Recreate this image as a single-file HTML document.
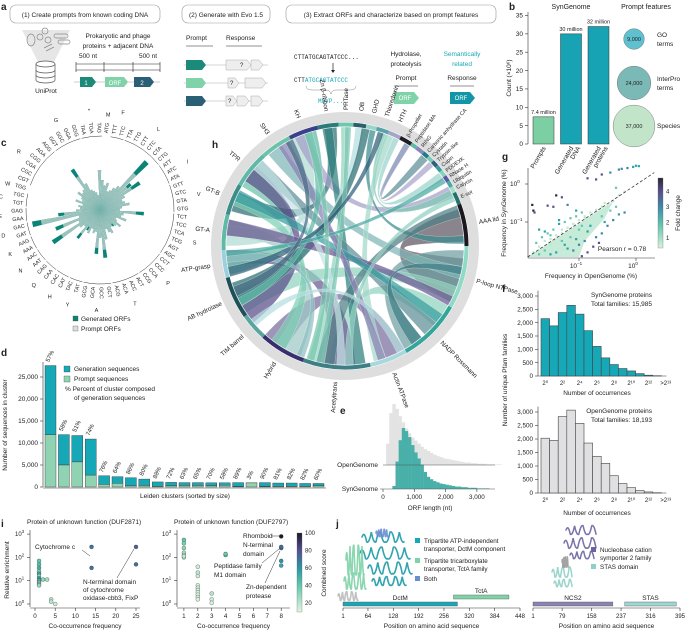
<!DOCTYPE html>
<html><head><meta charset="utf-8">
<style>
html,body{margin:0;padding:0;background:#fff;}
svg{display:block;font-family:"Liberation Sans",sans-serif;}
text{fill:#222;}
</style></head>
<body>
<svg id="fig" width="685" height="631" viewBox="0 0 685 631" xmlns="http://www.w3.org/2000/svg">
<g font-weight="bold" font-size="10">
<text x="1" y="10">a</text><text x="509" y="10">b</text><text x="1" y="146">c</text>
<text x="212" y="148">h</text><text x="502" y="160">g</text><text x="502" y="292">f</text>
<text x="1" y="356">d</text><text x="340" y="414">e</text><text x="1" y="527">i</text><text x="336" y="527">j</text>
</g>

<g id="panel-a" font-size="6.5">
<rect x="10" y="5" width="150" height="18" rx="6" fill="#fff" stroke="#999" stroke-width="0.6"/>
<text x="85" y="17" text-anchor="middle">(1) Create prompts from known coding DNA</text>
<rect x="182" y="5" width="88" height="18" rx="6" fill="#fff" stroke="#999" stroke-width="0.6"/>
<text x="226" y="17" text-anchor="middle">(2) Generate with Evo 1.5</text>
<rect x="286" y="5" width="210" height="18" rx="6" fill="#fff" stroke="#999" stroke-width="0.6"/>
<text x="391" y="17" text-anchor="middle">(3) Extract ORFs and characterize based on prompt features</text>
<polygon points="22,30 70,30 54,62 38,62" fill="#e6e6e6"/>
<g fill="none" stroke="#888" stroke-width="0.7">
<ellipse cx="31" cy="40" rx="4" ry="6"/><circle cx="40" cy="37" r="3"/><circle cx="45" cy="31" r="3"/><circle cx="48" cy="40" r="3"/>
<rect x="54" y="34" width="14" height="4" rx="2"/><rect x="58" y="40" width="12" height="4" rx="2"/><path d="M44 48 l8 -4 M46 51 l8 -4"/>
</g>
<g fill="#fff" stroke="#555" stroke-width="0.7">
<path d="M36 64 v16 a9.5 3 0 0 0 19 0 v-16"/><ellipse cx="45.5" cy="64" rx="9.5" ry="3"/>
<path d="M36 70 a9.5 3 0 0 0 19 0 M36 75 a9.5 3 0 0 0 19 0" fill="none"/>
</g>
<text x="46" y="93" text-anchor="middle">UniProt</text>
<text x="118" y="38" text-anchor="middle">Prokaryotic and phage</text>
<text x="118" y="48" text-anchor="middle">proteins + adjacent DNA</text>
<text x="88" y="58" text-anchor="middle">500 nt</text><text x="148" y="58" text-anchor="middle">500 nt</text>
<g stroke="#222" stroke-width="0.6">
<line x1="76" y1="64" x2="160" y2="64"/><line x1="76" y1="70" x2="160" y2="70"/>
<line x1="76" y1="62" x2="76" y2="72"/><line x1="104" y1="62" x2="104" y2="72"/><line x1="133" y1="62" x2="133" y2="72"/><line x1="160" y1="62" x2="160" y2="72"/>
</g>
<line x1="74" y1="82" x2="160" y2="82" stroke="#999" stroke-width="0.6"/>
<g font-size="6">
<polygon points="80,77 92,77 96,82 92,87 80,87" fill="#1b8a78"/><text x="86" y="85" style="fill:#fff" text-anchor="middle">1</text>
<polygon points="105,77 124,77 128,82 124,87 105,87" fill="#80d2a8"/><text x="115" y="85" style="fill:#fff" text-anchor="middle">ORF</text>
<polygon points="134,77 150,77 154,82 150,87 134,87" fill="#2b5f76"/><text x="142" y="85" style="fill:#fff" text-anchor="middle">2</text>
</g>
<text x="186" y="40">Prompt</text><text x="226" y="40">Response</text>
<line x1="186" y1="46" x2="213" y2="46" stroke="#222" stroke-width="0.6"/><line x1="226" y1="46" x2="262" y2="46" stroke="#222" stroke-width="0.6"/>
<g stroke="#aaa" stroke-width="0.5" font-size="6">
<line x1="184" y1="65" x2="268" y2="65"/><line x1="184" y1="83" x2="268" y2="83"/><line x1="184" y1="101" x2="268" y2="101"/>
<polygon points="186,60 202,60 206,65 202,70 186,70" fill="#1b8a78" stroke="none"/>
<polygon points="186,78 202,78 206,83 202,88 186,88" fill="#80d2a8" stroke="none"/>
<polygon points="186,96 202,96 206,101 202,106 186,106" fill="#2b5f76" stroke="none"/>
<polygon points="226,60 247,60 251,65 247,70 226,70" fill="#eee"/><polygon points="251,60 259,60 263,65 259,70 251,70" fill="#eee"/>
<polygon points="228,78 235,78 239,83 235,88 228,88" fill="#eee"/><polygon points="245,78 262,78 266,83 262,88 245,88" fill="#eee"/>
<polygon points="226,96 233,96 237,101 233,106 226,106" fill="#eee"/><polygon points="237,96 245,96 249,101 245,106 237,106" fill="#eee"/><polygon points="251,96 259,96 263,101 259,106 251,106" fill="#eee"/>
</g>
<g font-size="6" fill="#333"><text x="240" y="67">?</text><text x="230" y="85">?</text><text x="228" y="103">?</text></g>
<text x="294" y="59" font-family="Liberation Mono,monospace" font-size="6">CTTATGCAGTATCCC...</text>
<line x1="333" y1="63" x2="333" y2="71" stroke="#222" stroke-width="0.7"/><polygon points="331,70 335,70 333,73" fill="#222"/>
<text x="294" y="82" font-family="Liberation Mono,monospace" font-size="6">CTT<tspan style="fill:#17a8b8">ATGCAGTATCCC</tspan></text>
<path d="M306 86 q0 4 6 4 h14 q4 0 5 4 q1 -4 5 -4 h14 q6 0 6 -4" fill="none" stroke="#888" stroke-width="0.5"/>
<text x="318" y="103" font-family="Liberation Mono,monospace" font-size="6" style="fill:#17a8b8">MQYP...</text>
<text x="406" y="56" text-anchor="middle">Hydrolase,</text><text x="406" y="66" text-anchor="middle">proteolysis</text>
<text x="406" y="80" text-anchor="middle">Prompt</text>
<line x1="394" y1="86" x2="418" y2="86" stroke="#222" stroke-width="0.6"/>
<polygon points="394,92 414,92 419,98 414,104 394,104" fill="#80d2a8"/><text x="405" y="100" style="fill:#fff" text-anchor="middle" font-size="6">ORF</text>
<text x="462" y="56" text-anchor="middle" style="fill:#17a8b8">Semantically</text><text x="462" y="66" text-anchor="middle" style="fill:#17a8b8">related</text>
<text x="462" y="80" text-anchor="middle">Response</text>
<line x1="450" y1="86" x2="474" y2="86" stroke="#222" stroke-width="0.6"/>
<polygon points="450,92 470,92 475,98 470,104 450,104" fill="#1295a6"/><text x="461" y="100" style="fill:#fff" text-anchor="middle" font-size="6">ORF</text>
</g>

<g id="dyn"></g>
</svg>
<script>
const NS="http://www.w3.org/2000/svg";
const root=document.getElementById('dyn');
function mk(tag,at,parent){const e=document.createElementNS(NS,tag);for(const k in at)e.setAttribute(k,at[k]);(parent||root).appendChild(e);return e;}
function tx(x,y,s,at,parent){const e=mk('text',Object.assign({x:x,y:y,'font-size':6.5},at||{}),parent);e.textContent=s;return e;}

/* ---------- Panel b data ---------- */
const bCats=["Prompts","Generated DNA","Generated proteins"];
const bVals=[7.4,30,32];
const bLabels=["7.4 million","30 million","32 million"];
const bTicks=[0,5,10,15,20,25,30,35];
const featNames=["GO terms","InterPro terms","Species"];
const featVals=[9000,24000,37000];
(function(){
 const g=mk('g',{});
 
 
 const y=v=>144-v*(128.5/35), x0=528;
 tx(571,9,"SynGenome",{'text-anchor':'middle','font-size':7},g);
 mk('line',{x1:x0,y1:12,x2:x0,y2:144,stroke:'#333','stroke-width':0.6},g);
 bTicks.forEach(t=>{mk('line',{x1:x0-3,y1:y(t),x2:x0,y2:y(t),stroke:'#333','stroke-width':0.6},g);tx(x0-5,y(t)+2.2,String(t),{'text-anchor':'end','font-size':6.5},g);});
 tx(0,0,"Count (×10⁶)",{transform:`translate(511,78) rotate(-90)`,'text-anchor':'middle','font-size':6.5},g);
 const cols=["#7ccfa3","#17a3b3","#17a3b3"];
 bVals.forEach((v,i)=>{const bx=533+i*27.5;
  const r=mk('rect',{x:bx,y:y(v),width:21,height:144-y(v),fill:cols[i],stroke:'#333','stroke-width':0.5},g);
  
  
  tx(bx+10.5,y(v)-3,bLabels[i],{'text-anchor':'middle','font-size':5.5},g);
  const parts=bCats[i].split(' ');
  parts.forEach((p,k)=>{const ax=bx+13+k*7, ay=148;
   tx(ax,ay,p,{transform:`rotate(-60 ${ax} ${ay})`,'text-anchor':'end','font-size':6.5},g);});
 });
 tx(646,9,"Prompt features",{'text-anchor':'middle','font-size':7},g);
 const fc=["#5fc0cf","#7ab9b5","#c2e5c9"],fy=[39,83,126];
 featVals.forEach((v,i)=>{const r=Math.sqrt(v)/9.2;
  const c=mk('circle',{cx:634,cy:fy[i],r:r,fill:fc[i],stroke:'#666','stroke-width':0.4},g);
  
  
  tx(634,fy[i]+2,v.toLocaleString('en-US'),{'text-anchor':'middle','font-size':5.5},g);
  const w=featNames[i].split(' ');
  if(w.length>1){tx(657,fy[i]-2,w[0],{'font-size':6.5},g);tx(657,fy[i]+7,w[1],{'font-size':6.5},g);}
  else tx(657,fy[i]+2,w[0],{'font-size':6.5},g);
 });
})();

/* ---------- Panel c: codon polar ---------- */
const aaGroups=[["*",["TAA","TGA","TAG"]],["M",["ATG"]],["F",["TTT","TTC"]],["L",["TTA","TTG","CTT","CTC","CTA","CTG"]],["I",["ATT","ATC","ATA"]],["V",["GTT","GTC","GTA","GTG"]],["S",["TCT","TCC","TCA","TCG","AGT","AGC"]],["P",["CCT","CCC","CCA","CCG"]],["T",["ACT","ACC","ACA","ACG"]],["A",["GCT","GCC","GCA","GCG"]],["Y",["TAT","TAC"]],["H",["CAT","CAC"]],["Q",["CAA","CAG"]],["N",["AAT","AAC"]],["K",["AAA","AAG"]],["D",["GAT","GAC"]],["E",["GAA","GAG"]],["C",["TGT","TGC"]],["W",["TGG"]],["R",["CGT","CGC","CGA","CGG","AGA","AGG"]],["G",["GGT","GGC","GGA","GGG"]]];
const promptFreq=[18,15,40,30,25,28,20,22,26,30,50,35,38,28,24,26,30,22,20,36,24,22,28,18,20,26,22,18,20,26,24,20,30,40,28,38,22,24,20,26,20,30,22,26,46,24,40,22,60,36,24,20,22,18,26,20,22,28,24,26,40,30,22,20];
const genFreq=[18,15,40,30,25,28,20,22,26,30,67,40,48,28,24,26,30,22,20,44,24,22,28,18,20,26,22,21,20,26,24,20,30,48,28,44,22,24,20,26,24,36,22,26,57,24,48,22,69,42,24,20,22,18,26,20,22,28,24,26,49,30,22,20];
(function(){
 const g=mk('g',{});
 
 
 const cx=100,cy=210,step=360/64,a0=-12;
 const pt=(r,d)=>[cx+r*Math.sin(d*Math.PI/180),cy-r*Math.cos(d*Math.PI/180)];
 const wedge=(r,d1,d2)=>{const p1=pt(r,d1),p2=pt(r,d2);return `M${cx},${cy}L${p1[0]},${p1[1]}A${r},${r} 0 0 1 ${p2[0]},${p2[1]}Z`;};
 let i=0;
 aaGroups.forEach(([aa,cods])=>{
  const start=i;
  cods.forEach(c=>{
   const d=a0+i*step, d1=d-step*0.42, d2=d+step*0.42;
   const w1=mk('path',{d:wedge(genFreq[i],d1,d2),fill:'#0b8478'},g);
   
   
   const w2=mk('path',{d:wedge(promptFreq[i],d1,d2),fill:'#a3c5c0',opacity:0.95},g);
   
   
   const p=pt(77,d);
   let rot=d-90; let anchor='start';
   if(d%360>180||d<0){rot=d+90;anchor='end';}
   tx(p[0],p[1],c,{transform:`rotate(${rot} ${p[0]} ${p[1]})`,'text-anchor':anchor,'font-size':5.3,'dominant-baseline':'middle'},g);
   i++;
  });
  const ds=a0+start*step-step*0.4, de=a0+(i-1)*step+step*0.4;
  const q1=pt(74,ds),q2=pt(74,de);
  if(cods.length>1) mk('path',{d:`M${q1[0]},${q1[1]}A74,74 0 0 1 ${q2[0]},${q2[1]}`,fill:'none',stroke:'#333','stroke-width':0.5},g);
  const mid=(ds+de)/2, m=pt(cods.length>1?100:96,mid);
  tx(m[0],m[1]+2,aa,{'text-anchor':'middle','font-size':5.5},g);
 });
 const l1=mk('rect',{x:73,y:316,width:5,height:5,fill:'#0b8478',stroke:'#444','stroke-width':0.3},g);
 
 
 tx(81,321,"Generated ORFs",{'font-size':6.5},g);
 const l2=mk('rect',{x:73,y:326,width:5,height:5,fill:'#ddd',stroke:'#444','stroke-width':0.3},g);
 
 
 tx(81,331,"Prompt ORFs",{'font-size':6.5},g);
})();

/* ---------- Panel d: Leiden clusters ---------- */
const clusterTotals=[27600,11900,11700,10900,2550,2350,2100,1800,1150,1050,1000,1000,950,950,1000,950,1000,900,900,800,800];
const clusterPrompt=[11900,5000,5700,2700,600,850,300,350,150,300,350,350,300,400,100,930,100,150,150,150,300];
const clusterPct=["57%","58%","51%","74%","76%","64%","86%","80%","88%","72%","63%","65%","70%","58%","89%","3%","90%","81%","82%","82%","60%"];
const dTicks=[0,5000,10000,15000,20000,25000];
(function(){
 const g=mk('g',{});
 
 
 const y=v=>487-v*(110/25000), x0=43;
 mk('line',{x1:x0,y1:362,x2:x0,y2:487,stroke:'#333','stroke-width':0.6},g);
 mk('line',{x1:x0,y1:488,x2:326,y2:488,stroke:'#333','stroke-width':0.6},g);
 dTicks.forEach(t=>{mk('line',{x1:x0-3,y1:y(t),x2:x0,y2:y(t),stroke:'#333','stroke-width':0.6},g);tx(x0-5,y(t)+2.2,t.toLocaleString('en-US'),{'text-anchor':'end','font-size':6.5},g);});
 tx(0,0,"Number of sequences in cluster",{transform:'translate(7,425) rotate(-90)','text-anchor':'middle','font-size':6.5},g);
 tx(185,498,"Leiden clusters (sorted by size)",{'text-anchor':'middle','font-size':6.5},g);
 clusterTotals.forEach((v,i)=>{const bx=45+i*13.4;
  const r1=mk('rect',{x:bx,y:y(v),width:11,height:y(clusterPrompt[i])-y(v),fill:'#17a8b8',stroke:'#333','stroke-width':0.4},g);
  
  
  const r2=mk('rect',{x:bx,y:y(clusterPrompt[i]),width:11,height:487-y(clusterPrompt[i]),fill:'#8fd3b3',stroke:'#333','stroke-width':0.4},g);
  
  
  tx(0,0,clusterPct[i],{transform:`translate(${bx+4},${y(v)-3}) rotate(-65)`,'font-size':6},g);
 });
 const a=mk('rect',{x:64,y:366,width:6,height:6,fill:'#17a8b8',stroke:'#333','stroke-width':0.3},g);
 
 tx(74,371,"Generation sequences",{'font-size':6.5},g);
 const b=mk('rect',{x:64,y:376,width:6,height:6,fill:'#8fd3b3',stroke:'#333','stroke-width':0.3},g);
 
 tx(74,381,"Prompt sequences",{'font-size':6.5},g);
 tx(65,391,"%  Percent of cluster composed",{'font-size':6.5},g);
 tx(74,400,"of generation sequences",{'font-size':6.5},g);
})();

/* ---------- Panel h: chord diagram ---------- */
const segNames=["TPR","SH3","KH","Zn β-ribbon","PRTase","OB","GHD","Thioredoxin","HTH","β-Propeller","Peptidase MA","RING","Carbonic anhydrase CA","Cystatin","Trypsin-like","Cupin","PDDEXK","RNase H","Ubiquitin","Calycin","E-set","AAA lid","P-loop NTPase","NADP Rossmann","Actin ATPase","Acetyltrans","Hybrid","TIM barrel","AB hydrolase","ATP-grasp","GT-A","GT-B"];
const segStart=[300,318,333,347,357,4,10,15,21,27,33,36,40,43,46,49,52,55,58,61,64,70,90,120,150,168,200,222,235,255,268,285];
const segEnd=  [318,333,347,357,364,10,15,21,27,33,36,40,43,46,49,52,55,58,61,64,70,90,120,150,168,200,222,235,255,268,285,300];
const segColor=["#5fb9a6","#6cc3a9","#3b3f8a","#2b7b7a","#70c7b0","#2a5f6b","#9bd5c8","#5aa3a8","#a6a3c8","#1d1d2a","#5fb9a6","#8c87bb","#1f7c86","#7cc9b6","#2f5f7a","#3f9aa0","#89d1bd","#5c58a0","#4aa9a2","#a5dccb","#28706e","#1b1820","#8fd9c5","#35a59a","#a9d8dc","#3e7f86","#3a2f6d","#5aa59f","#1f4f57","#9bd0dc","#5fb9a6","#3f8b89"];
const chordA1=[72,92,120,150,175,202,236,256,270,287,303,320,335,349,358,5,12,18,24,30,130,160,185,210,240,262,275,292,310,326,340,0,16,45,55,65,140,195,245,228];
const chordA2=[88,112,132,160,190,215,248,266,280,297,312,328,342,354,2,9,15,21,27,33,138,166,194,218,252,267,283,298,316,332,346,3,19,48,58,68,146,199,250,232];
const chordB1=[96,140,180,210,260,275,110,300,330,350,230,100,60,170,192,240,85,62,52,40,310,20,70,290,8,200,115,125,180,160,240,190,255,30,265,176,100,340,330,150];
const chordB2=[118,150,188,222,268,283,118,310,340,356,240,106,66,176,198,246,89,66,56,44,316,24,76,296,12,204,120,130,184,164,244,194,260,33,268,180,104,344,334,154];
const chordCol=["#5e5660","#6e9fa2","#8fd3be","#7a6e9e","#6a5a92","#9fc9c6","#8fd3be","#6cc3a9","#b0dcd2","#2b6f72","#5a4f8a","#7fb6b8","#a5a0c8","#2f7f7d","#8fd3be","#b5dfe0","#3c8c90","#7fc8b4","#9bd3cb","#5e8f98","#5e8f98","#a3d9ca","#4f7f86","#7fd0b6","#2b6f72","#8fbfc2","#6a5a92","#3b9ea0","#c5e4e6","#8a82b4","#5fb9a6","#7bc5b2","#2f5f7a","#a8a6cc","#4aa9a2","#91d0c1","#3e7f86","#79c7b0","#4b6f86","#b5dfe0"];
(function(){
 const g=mk('g',{});
 
 
 const cx=345,cy=246,R=119;
 const pt=(r,d)=>[cx+r*Math.sin(d*Math.PI/180),cy-r*Math.cos(d*Math.PI/180)];
 const ring=mk('circle',{cx:cx,cy:cy,r:129,fill:'none',stroke:'#dedede','stroke-width':10},g);
 
 chordA1.forEach((a1,i)=>{
  const a2=chordA2[i],b1=chordB1[i],b2=chordB2[i];
  const p1=pt(R,a1),p2=pt(R,a2),p3=pt(R,b1),p4=pt(R,b2);
  const d=`M${p1[0]},${p1[1]}A${R},${R} 0 0 1 ${p2[0]},${p2[1]}Q${cx},${cy} ${p3[0]},${p3[1]}A${R},${R} 0 0 1 ${p4[0]},${p4[1]}Q${cx},${cy} ${p1[0]},${p1[1]}Z`;
  const c=mk('path',{d:d,fill:chordCol[i],opacity:0.72,stroke:'#fff','stroke-width':0.3},g);
  
  
 });
 segNames.forEach((n,i)=>{
  const s=segStart[i],e=segEnd[i];
  const q1=pt(121.5,s),q2=pt(121.5,e);
  const large=(e-s)>180?1:0;
  const arc=mk('path',{d:`M${q1[0]},${q1[1]}A121.5,121.5 0 ${large} 1 ${q2[0]},${q2[1]}`,fill:'none',stroke:segColor[i],'stroke-width':4},g);
  
  
  const small=(i>=9&&i<=20);
  const m=(s+e)/2, md=((m%360)+360)%360;
  const p=pt(small?126:136,m);
  let rot,anchor;
  if(md<180){rot=md-90;anchor='start';}
  else {rot=md+90;anchor='end';}
  tx(p[0],p[1],n,{transform:`rotate(${rot} ${p[0]} ${p[1]})`,'text-anchor':anchor,'font-size':small?5.3:6.3,'dominant-baseline':'middle'},g);
 });
})();

/* ---------- Panel g: scatter ---------- */
const ogFreqLog=[-1.82,-1.8,-1.78,-1.55,-1.45,-1.3,-1.2,-1.05,-0.6,-0.45,-0.3,-0.25,-0.15,-0.05,0.0,0.05,-0.85,-0.7,-1.4,-1.35,-1.7,-1.6,-1.5,-1.3,-0.9,-0.95,-0.55,-0.4,-0.5,-0.3,-0.2,-0.35,-1.2,-1.1,-1.0,-0.9,-0.85,-0.7,-0.6,-0.5,-0.4,-0.3,-0.2,-0.6,-0.45,-0.8,-1.0,-1.3,-1.5,-1.6,-1.4,-0.95,-0.75,-0.65,-1.15,-0.55,-0.35,-1.8,-1.7,-1.6,-1.5,-1.4,-1.3,-1.2,-1.1,-1.0,-0.9,-0.8,-0.7,-0.6,-1.65,-1.55,-1.45,-1.35,-1.25,-1.15,-1.05,-0.95,-1.75,-1.7,-1.5,-1.25,-1.05,-0.85];
const synFreqLog=[-0.55,-0.7,-0.75,-0.57,-0.6,-0.35,-0.55,-0.7,0.25,0.3,0.38,0.4,0.42,0.45,0.48,0.47,0.15,0.12,-0.3,-0.95,-1.2,-1.25,-1.35,-1.3,-0.9,-0.75,-0.5,-0.45,-0.6,-0.3,-0.2,-0.1,-1.7,-1.75,-1.6,-1.5,-1.8,-1.4,-1.3,-1.1,-0.95,-0.8,-0.75,-0.85,-0.7,-1.1,-1.2,-1.5,-1.6,-1.75,-1.8,-1.9,-1.65,-1.55,-1.4,-1.0,-0.6,-1.8,-1.65,-1.5,-1.45,-1.35,-1.2,-1.15,-1.05,-0.95,-0.85,-0.75,-0.68,-0.6,-1.4,-1.3,-1.2,-1.05,-1.0,-0.9,-0.85,-1.1,-1.55,-1.85,-1.85,-1.6,-1.45,-1.25];
const gXTicks=[-1,0], gYTicks=[-1,0];
const foldTicks=[1,2,3,4];
(function(){
 const g=mk('g',{});
 
 
 const X=v=>579+(v+1)*57, Y=v=>222-(v+1)*38;
 mk('line',{x1:528,y1:168,x2:528,y2:258,stroke:'#333','stroke-width':0.6},g);
 mk('line',{x1:528,y1:258,x2:655,y2:258,stroke:'#333','stroke-width':0.6},g);
 const band=mk('polygon',{points:`${X(-1.9)},${Y(-1.92)} ${X(-0.4)},${Y(-0.45)} ${X(-0.55)},${Y(-0.9)} ${X(-0.9)},${Y(-1.5)} ${X(-1.0)},${Y(-1.92)}`,fill:'#b9e6cf',opacity:0.8},g);
 
 const col=f=>f>3.2?'#2b2636':f>2.4?'#5a4f8e':f>1.6?'#3f86a6':f>0.9?'#2aa3a8':f>0.4?'#62c7b0':'#bfe8cf';
 ogFreqLog.forEach((xv,i)=>{const yv=synFreqLog[i];const f=Math.abs(yv-xv)*3;
  const c=mk('rect',{x:X(xv)-1.1,y:Y(yv)-1.1,width:2.2,height:2.2,fill:col(f)},g);
  
  
 });
 mk('line',{x1:X(-1.9),y1:Y(-1.92),x2:X(0.32),y2:Y(0.3),stroke:'#222','stroke-width':0.7,'stroke-dasharray':'3,2'},g);
 gXTicks.forEach(t=>{mk('line',{x1:X(t),y1:258,x2:X(t),y2:261,stroke:'#333','stroke-width':0.6},g);const e=tx(X(t)-3,268,'10',{'text-anchor':'middle','font-size':6.5},g);const s=mk('tspan',{dy:-3,'font-size':4.5},e);s.textContent=String(t===0?0:'−1');});
 gYTicks.forEach(t=>{mk('line',{x1:525,y1:Y(t),x2:528,y2:Y(t),stroke:'#333','stroke-width':0.6},g);const e=tx(510,Y(t)+2,'10',{'font-size':6.5},g);const s=mk('tspan',{dy:-3,'font-size':4.5},e);s.textContent=String(t===0?0:'−1');});
 tx(591,278,"Frequency in OpenGenome (%)",{'text-anchor':'middle','font-size':6.5},g);
 tx(0,0,"Frequency in SynGenome (%)",{transform:'translate(506,213) rotate(-90)','text-anchor':'middle','font-size':6.5},g);
 tx(622,251,"Pearson r = 0.78",{'text-anchor':'middle','font-size':6.5},g);
 const defs=mk('defs',{},g);const lg=mk('linearGradient',{id:'fc',x1:0,y1:1,x2:0,y2:0},defs);
 [['0','#d9f2d9'],['0.35','#5cc2b0'],['0.6','#3f86a6'],['0.8','#5a4f8e'],['1','#2b2636']].forEach(s=>mk('stop',{offset:s[0],'stop-color':s[1]},lg));
 const cb=mk('rect',{x:658,y:178,width:5,height:70,fill:'url(#fc)',stroke:'#666','stroke-width':0.3},g);
 
 foldTicks.forEach(t=>tx(666,240-(t-1)*15.5,String(t),{'font-size':6},g));
 tx(0,0,"Fold change",{transform:'translate(680,213) rotate(-90)','text-anchor':'middle','font-size':6.5},g);
})();

/* ---------- Panel f: Pfam histograms ---------- */
const binLabels=["2⁰","2²","2⁴","2⁶","2⁸","2¹⁰","2¹²",">2¹³"];
const synFam=[2150,1880,2380,2650,2320,1700,1110,680,430,280,190,90,30,10];
const openFam=[2030,1950,2830,3070,2580,1850,1360,1100,640,350,200,90,40,10];
const famTicks=[0,500,1000,1500,2000,2500,3000];
function famHist(vals,y0,yTop,color,name,title,total){
 const g=mk('g',{});
 
 
 const y=v=>y0-v*((y0-yTop)/3000), x0=538, bw=8.6;
 mk('line',{x1:x0,y1:y(3200),x2:x0,y2:y0,stroke:'#333','stroke-width':0.6},g);
 mk('line',{x1:x0,y1:y0,x2:x0+14*bw+8,y2:y0,stroke:'#333','stroke-width':0.6},g);
 famTicks.forEach(t=>{mk('line',{x1:x0-3,y1:y(t),x2:x0,y2:y(t),stroke:'#333','stroke-width':0.6},g);tx(x0-5,y(t)+2.2,t.toLocaleString('en-US'),{'text-anchor':'end','font-size':6.3},g);});
 vals.forEach((v,i)=>{const r=mk('rect',{x:x0+3+i*bw,y:y(v),width:bw,height:y0-y(v),fill:color,stroke:'#444','stroke-width':0.6},g);
  
  });
 binLabels.forEach((l,k)=>tx(x0+7.3+k*2*bw,y0+9,l,{'text-anchor':'middle','font-size':6},g));
 tx(652,y(3000)+1,title,{'text-anchor':'end','font-size':6.5},g);
 tx(652,y(3000)+10,total,{'text-anchor':'end','font-size':6.5},g);
}
famHist(synFam,376,296,'#17a8b8','syngenome-pfam-histogram','SynGenome proteins','Total families: 15,985');
famHist(openFam,493,412,'#e0e0e2','opengenome-pfam-histogram','OpenGenome proteins','Total families: 18,193');
tx(597,395,"Number of occurrences",{'text-anchor':'middle','font-size':6.5});
tx(597,515,"Number of occurrences",{'text-anchor':'middle','font-size':6.5});
tx(0,0,"Number of unique Pfam families",{transform:'translate(507,380) rotate(-90)','text-anchor':'middle','font-size':6.5});

/* ---------- Panel e: ORF length ---------- */
const orfBins=[0,100,200,300,400,500,600,700,800,900,1000,1100,1200,1300,1400,1500,1600,1700,1800,1900,2000,2100,2200,2300,2400,2500,2600,2700,2800,2900,3000,3100,3200,3300,3400,3500,3600,3700];
const openLen=[0,35,85,100,92,80,70,60,52,45,40,35,30,26,23,20,17,15,13,11,10,9,8,7,6,5,4,4,3,3,2,2,2,1,1,1,1,1];
const synLen=[0,0,0,5,45,80,100,95,85,72,60,50,40,28,20,16,13,11,9,8,7,6,5,4,4,3,3,2,2,2,1,1,1,1,0,0,0,0];
const eTicks=[0,1000,2000,3000];
(function(){
 const g=mk('g',{});
 
 
 const X=v=>383+v*0.0313, bw=100*0.0313;
 openLen.forEach((v,i)=>{const r=mk('rect',{x:X(orfBins[i]),y:465-v*0.61,width:bw+0.2,height:v*0.61,fill:'#e3e3e3'},g);
  });
 synLen.forEach((v,i)=>{const r=mk('rect',{x:X(orfBins[i]),y:489-v*0.61,width:bw+0.2,height:v*0.61,fill:'#48b0a8'},g);
  });
 mk('line',{x1:383,y1:465,x2:495,y2:465,stroke:'#555','stroke-width':0.6},g);
 mk('line',{x1:380,y1:489,x2:495,y2:489,stroke:'#555','stroke-width':0.6},g);
 tx(378,467,"OpenGenome",{'text-anchor':'end','font-size':6.5},g);
 tx(378,491,"SynGenome",{'text-anchor':'end','font-size':6.5},g);
 eTicks.forEach(t=>{mk('line',{x1:X(t),y1:489,x2:X(t),y2:492,stroke:'#333','stroke-width':0.6},g);tx(X(t),499,t.toLocaleString('en-US'),{'text-anchor':'middle','font-size':6.3},g);});
 tx(430,510,"ORF length (nt)",{'text-anchor':'middle','font-size':6.5},g);
})();

/* ---------- Panel i ---------- */
const iLeftX=[1,1,1,1,1,1,1,1,1,1,1,1,2,3,4,4,5,14,14,25,25];
const iLeftY=[1.85,1.7,1.55,1.4,1.3,1.2,1.1,1.0,0.95,0.9,0.85,0.8,1.05,1.05,0.2,0.1,0.0,2.45,1.55,2.45,1.7];
const iLeftS=[40,45,50,35,55,30,60,40,45,25,35,30,30,25,20,20,15,70,70,75,70];
const iRightX=[1,1,1,1,1,1,1,2,2,2,2,2,2,2,2,2,2,3,3,3,4,4,8,8,8,8,8];
const iRightY=[2.75,2.6,2.4,2.2,2.1,2.0,2.05,1.6,1.35,1.2,0.8,0.7,0.6,0.5,0.4,0.3,0.2,0.45,0.2,0.05,2.1,2.15,2.9,2.4,2.45,1.85,1.65];
const iRightS=[40,35,30,25,20,22,18,15,18,15,12,15,14,13,12,15,12,20,15,12,40,40,100,70,72,60,55];
const iLeftTicks=[0,5,10,15,20,25], iRightTicks=[1,2,3,4,5,6,7,8], iYTicks=[0,1,2,3], scoreTicks=[20,40,60,80,100];
function scoreCol(s){const stops=[[10,[225,245,225]],[40,[100,200,170]],[60,[42,150,165]],[80,[85,80,145]],[100,[30,25,40]]];
 for(let k=1;k<stops.length;k++){if(s<=stops[k][0]){const a=stops[k-1],b=stops[k],t=(s-a[0])/(b[0]-a[0]);return 'rgb('+a[1].map((c,j)=>Math.round(c+(b[1][j]-c)*t)).join(',')+')';}}return 'rgb(30,25,40)';}
function coocc(xs,ys,ss,X,xTicks,axisX,axisEnd,name,title){
 const g=mk('g',{});
 
 
 const Y=v=>604-v*23.3;
 tx(axisX-3,524,title,{'font-size':6.5},g);
 mk('line',{x1:axisX,y1:530,x2:axisX,y2:607,stroke:'#333','stroke-width':0.6},g);
 mk('line',{x1:axisX,y1:608,x2:axisEnd,y2:608,stroke:'#333','stroke-width':0.6},g);
 iYTicks.forEach(t=>{mk('line',{x1:axisX-3,y1:Y(t),x2:axisX,y2:Y(t),stroke:'#333','stroke-width':0.6},g);const e=tx(axisX-15,Y(t)+2,'10',{'font-size':6},g);const s=mk('tspan',{dy:-3,'font-size':4.3},e);s.textContent=String(t);});
 xTicks.forEach(t=>{mk('line',{x1:X(t),y1:608,x2:X(t),y2:611,stroke:'#333','stroke-width':0.6},g);tx(X(t),618,String(t),{'text-anchor':'middle','font-size':6.3},g);});
 tx((axisX+axisEnd)/2,628,"Co-occurrence frequency",{'text-anchor':'middle','font-size':6.5},g);
 xs.forEach((xv,i)=>{const c=mk('circle',{cx:X(xv),cy:Y(ys[i]),r:2,fill:scoreCol(ss[i]),stroke:'#333','stroke-width':0.3},g);
  });
 return Y;
}
const YL=coocc(iLeftX,iLeftY,iLeftS,v=>35+v*4.04,iLeftTicks,30,140,'duf2871-scatter','Protein of unknown function (DUF2871)');
const YR=coocc(iRightX,iRightY,iRightS,v=>170+v*13.9,iRightTicks,177,290,'duf2797-scatter','Protein of unknown function (DUF2797)');
tx(0,0,"Relative enrichment",{transform:'translate(9,570) rotate(-90)','text-anchor':'middle','font-size':6.5});
tx(35,549,"Cytochrome c",{'font-size':6.5});
mk('line',{x1:82,y1:550,x2:90,y2:556,stroke:'#333','stroke-width':0.5});
tx(83,584,"N-terminal domain",{'font-size':6.5});tx(83,592,"of cytochrome",{'font-size':6.5});tx(83,600,"oxidase-cbb3, FixP",{'font-size':6.5});
mk('line',{x1:117,y1:578,x2:134,y2:549,stroke:'#333','stroke-width':0.5});
tx(243,538,"Rhomboid",{'font-size':6.5});tx(243,547,"N-terminal",{'font-size':6.5});tx(243,556,"domain",{'font-size':6.5});
mk('line',{x1:271,y1:536,x2:280,y2:536,stroke:'#333','stroke-width':0.5});
tx(214,568,"Peptidase family",{'font-size':6.5});tx(214,577,"M1 domain",{'font-size':6.5});
mk('line',{x1:262,y1:563,x2:279,y2:549,stroke:'#333','stroke-width':0.5});
tx(246,589,"Zn-dependent",{'font-size':6.5});tx(246,598,"protease",{'font-size':6.5});
mk('line',{x1:265,y1:583,x2:280,y2:551,stroke:'#333','stroke-width':0.5});
(function(){
 const defs=mk('defs',{});const lg=mk('linearGradient',{id:'sc',x1:0,y1:1,x2:0,y2:0},defs);
 [10,40,60,80,100].forEach(s=>mk('stop',{offset:(s-10)/90,'stop-color':scoreCol(s)},lg));
 const cb=mk('rect',{x:297,y:533,width:5,height:79,fill:'url(#sc)',stroke:'#666','stroke-width':0.3});
 
 scoreTicks.forEach(t=>tx(305,612-(t-10)*(79/90)+2,String(t),{'font-size':6}));
 tx(0,0,"Combined score",{transform:'translate(326,573) rotate(-90)','text-anchor':'middle','font-size':6.5});
})();

/* ---------- Panel j ---------- */
const jLeftDomains=["DctM","TctA"], jLeftStart=[1,280], jLeftEnd=[290,420];
const jRightDomains=["NCS2","STAS"], jRightStart=[1,247], jRightEnd=[215,385];
const jLeftTicks=[1,64,128,192,256,320,384,448], jRightTicks=[1,79,158,237,316,395];
function squiggle(x,y,w,h,n){let d=`M${x},${y+h/2}`;for(let k=0;k<n;k++){const xx=x+(k+1)*w/n;const yy=(k%2)?y+h*0.15:y+h*0.85;d+=` Q${xx-w/n/2},${(k%3===0)?y:y+h} ${xx},${yy}`;}return d;}
(function(){
 const g=mk('g',{});
 
 
 const st=mk('g',{fill:'none','stroke-linecap':'round'},g);
 
 [[362,530,42,14,'#1b9aa8'],[360,545,50,16,'#1b9aa8'],[368,560,44,16,'#1b9aa8'],[372,575,34,12,'#1b9aa8'],[346,540,18,40,'#7fd2a8'],[344,570,22,22,'#7fd2a8'],[376,528,12,10,'#6a8fd0'],[338,590,20,12,'#bbb']].forEach(b=>mk('path',{d:squiggle(b[0],b[1],b[2],b[3],9),stroke:b[4],'stroke-width':1.6,opacity:0.9},st));
 const st2=mk('g',{fill:'none','stroke-linecap':'round'},g);
 
 [[566,524,30,12,'#6a64a0'],[564,536,32,14,'#6a64a0'],[570,550,24,10,'#6a64a0'],[552,565,20,14,'#8fd0c8'],[554,578,18,10,'#8fd0c8'],[562,555,6,14,'#999']].forEach(b=>mk('path',{d:squiggle(b[0],b[1],b[2],b[3],7),stroke:b[4],'stroke-width':1.5,opacity:0.9},st2));
 [['#17a8b8',541,["Tripartite ATP-independent","transporter, DctM component"]],['#80d2a8',561,["Tripartite tricarboxylate","transporter, TctA family"]],['#6a8fd0',579,["Both"]]].forEach(([c,y,ls],k)=>{
  const r=mk('rect',{x:415,y:y-3,width:5,height:5,fill:c},g);
  
  ls.forEach((l,j)=>tx(424,y+2+j*8,l,{'font-size':6.3},g));
 });
 [['#6a64a0',550,["Nucleobase cation","symporter 2 family"]],['#8fd0c8',567,["STAS domain"]]].forEach(([c,y,ls],k)=>{
  const r=mk('rect',{x:591,y:y-3,width:5,height:5,fill:c},g);
  
  ls.forEach((l,j)=>tx(600,y+2+j*8,l,{'font-size':6.3},g));
 });
 function track(names,st,en,ticks,x0,x1,maxV,cols,rows,pfx){
  const X=v=>x0+(v-1)*(x1-x0)/(maxV-1);
  names.forEach((n,i)=>{const r=mk('rect',{x:X(st[i]),y:rows[i],width:X(en[i])-X(st[i]),height:4,fill:cols[i],stroke:'#555','stroke-width':0.4},g);
   
   tx((X(st[i])+X(en[i]))/2,rows[i]-2,n,{'text-anchor':'middle','font-size':6.5},g);});
  mk('line',{x1:x0,y1:608,x2:x1,y2:608,stroke:'#333','stroke-width':0.6},g);
  ticks.forEach(t=>{mk('line',{x1:X(t),y1:608,x2:X(t),y2:611,stroke:'#333','stroke-width':0.6},g);tx(X(t),618,String(t),{'text-anchor':'middle','font-size':6},g);});
  tx((x0+x1)/2,628,"Position on amino acid sequence",{'text-anchor':'middle','font-size':6.5},g);
 }
 track(jLeftDomains,jLeftStart,jLeftEnd,jLeftTicks,343,520,448,['#17a8b8','#80d2a8'],[602,595],'left-domain');
 track(jRightDomains,jRightStart,jRightEnd,jRightTicks,533,680,395,['#8a84b4','#9fd6d0'],[602,602],'right-domain');
})();
</script>
</body></html>
